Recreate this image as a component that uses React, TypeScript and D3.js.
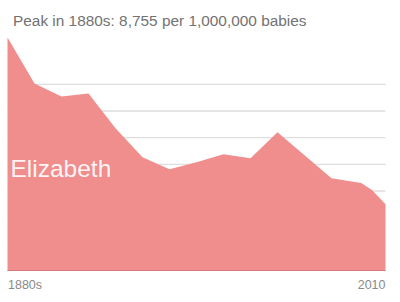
import React from "react";
import * as d3 from "d3";

// Data: rate per 1,000,000 babies named Elizabeth
const years = [1880, 1890, 1900, 1910, 1920, 1930, 1940, 1950, 1960, 1970, 1980, 1990, 2000, 2011, 2015, 2020];
const rates = [8755, 7033, 6547, 6659, 5350, 4265, 3816, 4078, 4377, 4227, 5200, 4340, 3479, 3300, 3040, 2500];
const gridValues = [1000, 2000, 3000, 4000, 5000, 6000, 7000];
const tickLabels = ["1880s", "2010"];
const nameLabel = "Elizabeth";
const title = "Peak in 1880s: 8,755 per 1,000,000 babies";

const W = 400;
const H = 302;
const left = 7.5;
const right = 385.5;
const baseY = 271;
const peakY = 37.5;

export default function App() {
  const x = d3.scaleLinear().domain([years[0], years[years.length - 1]]).range([left, right]);
  const y = d3.scaleLinear().domain([0, d3.max(rates) as number]).range([baseY, peakY]);
  const pts = years.map((yr, i) => ({ yr, v: rates[i] }));
  const area = d3
    .area<{ yr: number; v: number }>()
    .x((d) => x(d.yr))
    .y0(y(0))
    .y1((d) => y(d.v));

  return (
    <svg
      width={W}
      height={H}
      style={{ position: "absolute", left: 0, top: 0, background: "#fff" }}
      fontFamily="'Liberation Sans', Arial, Helvetica, sans-serif"
    >
      <text x={13} y={25.5} fontSize={15.4} fill="#727272">
        {title}
      </text>
      {gridValues.map((g) => (
        <line key={g} x1={left} x2={right} y1={y(g)} y2={y(g)} stroke="#dedede" strokeWidth={1.3} />
      ))}
      <path d={area(pts) ?? ""} fill="#f08d8d" />
      <line x1={left} x2={right} y1={baseY - 0.5} y2={baseY - 0.5} stroke="#d77a7a" strokeWidth={1} />
      <text x={10.5} y={176.5} fontSize={24.5} fill="#fff" fillOpacity={0.92}>
        {nameLabel}
      </text>
      <text x={left + 0.5} y={288.5} fontSize={12.5} fill="#8a8a8a">
        {tickLabels[0]}
      </text>
      <text x={right} y={288.5} fontSize={12.5} fill="#8a8a8a" textAnchor="end">
        {tickLabels[1]}
      </text>
    </svg>
  );
}
